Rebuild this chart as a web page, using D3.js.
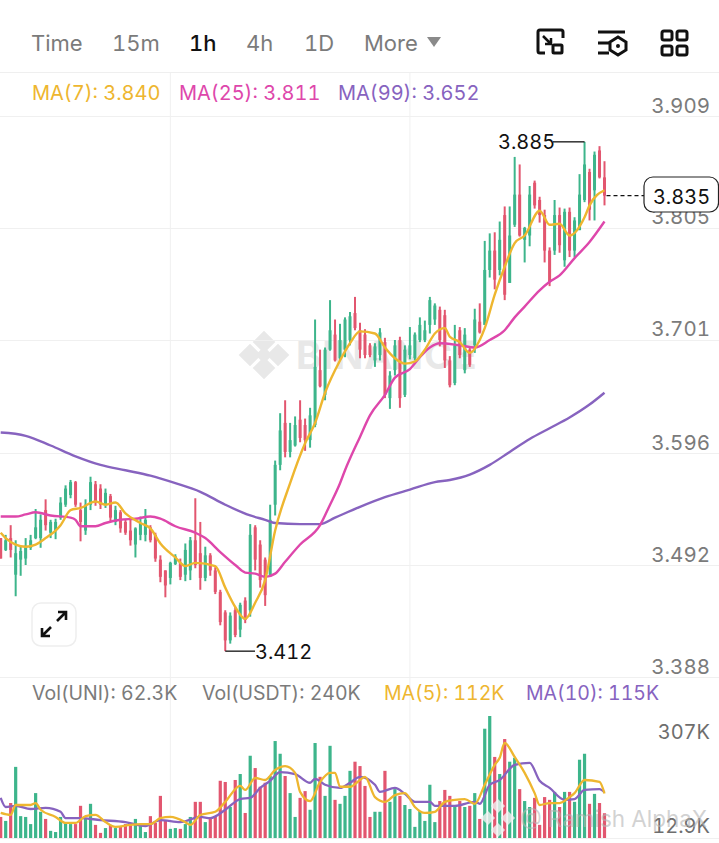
<!DOCTYPE html>
<html>
<head>
<meta charset="utf-8">
<script src="https://cdnjs.cloudflare.com/ajax/libs/d3/7.8.5/d3.min.js"></script>
<style>
html,body{margin:0;padding:0;background:#fff;}
svg{display:block;}
text{font-family:"Inter","Open Sans",sans-serif;font-variant-numeric:tabular-nums;}
</style>
</head>
<body>
<script>
var timeTabs = ["Time","15m","1h","4h","1D","More"];
var priceTicks = [3.909,3.805,3.701,3.596,3.492,3.388];
var volTicks = [307,12.9];
var gridCandles = [34,82];

var open = [3.517,3.506,3.517,3.483,3.497,3.498,3.508,3.517,3.517,3.543,
3.522,3.524,3.536,3.548,3.557,3.569,3.543,3.524,3.548,3.567,
3.563,3.548,3.556,3.532,3.541,3.532,3.524,3.511,3.520,3.520,
3.527,3.520,3.497,3.487,3.480,3.493,3.494,3.483,3.487,3.515,
3.503,3.480,3.501,3.487,3.467,3.448,3.422,3.450,3.432,3.459,
3.450,3.527,3.511,3.497,3.483,3.548,3.585,3.624,3.597,3.603,
3.627,3.622,3.608,3.622,3.673,3.650,3.692,3.706,3.684,3.692,
3.701,3.726,3.710,3.706,3.696,3.682,3.687,3.699,3.647,3.673,
3.701,3.650,3.687,3.684,3.701,3.701,3.715,3.720,3.729,3.724,
3.682,3.661,3.710,3.673,3.692,3.696,3.718,3.715,3.766,3.784,
3.766,3.817,3.754,3.808,3.836,3.794,3.798,3.847,3.831,3.817,
3.784,3.784,3.817,3.775,3.820,3.784,3.803,3.831,3.857,3.840,
3.877,3.852];
var high = [3.517,3.520,3.529,3.515,3.509,3.517,3.520,3.544,3.539,3.553,
3.534,3.535,3.555,3.566,3.571,3.570,3.550,3.553,3.574,3.570,
3.567,3.563,3.558,3.547,3.543,3.534,3.534,3.527,3.537,3.544,
3.529,3.522,3.501,3.487,3.495,3.502,3.498,3.512,3.518,3.554,
3.532,3.509,3.503,3.490,3.469,3.450,3.448,3.453,3.457,3.462,
3.530,3.529,3.515,3.499,3.548,3.589,3.633,3.645,3.624,3.630,
3.645,3.628,3.638,3.720,3.692,3.694,3.738,3.720,3.716,3.722,
3.727,3.741,3.717,3.711,3.698,3.698,3.712,3.703,3.672,3.701,
3.704,3.696,3.713,3.708,3.722,3.719,3.741,3.735,3.732,3.729,
3.686,3.715,3.713,3.712,3.695,3.730,3.735,3.793,3.800,3.801,
3.811,3.825,3.825,3.871,3.864,3.806,3.844,3.849,3.834,3.822,
3.787,3.831,3.824,3.823,3.824,3.815,3.855,3.885,3.860,3.876,
3.881,3.867];
var low = [3.498,3.505,3.499,3.463,3.482,3.492,3.506,3.516,3.508,3.524,
3.517,3.516,3.534,3.546,3.554,3.546,3.514,3.520,3.543,3.547,
3.544,3.545,3.532,3.529,3.522,3.520,3.510,3.499,3.515,3.514,
3.513,3.495,3.476,3.462,3.474,3.492,3.478,3.477,3.478,3.489,
3.469,3.477,3.482,3.465,3.436,3.412,3.419,3.425,3.425,3.438,
3.444,3.487,3.471,3.454,3.481,3.538,3.580,3.592,3.592,3.602,
3.606,3.598,3.601,3.620,3.657,3.645,3.691,3.681,3.682,3.685,
3.696,3.710,3.684,3.684,3.685,3.676,3.682,3.647,3.637,3.668,
3.638,3.648,3.683,3.682,3.699,3.699,3.707,3.715,3.695,3.675,
3.657,3.659,3.684,3.670,3.676,3.689,3.707,3.715,3.759,3.748,
3.761,3.738,3.754,3.806,3.797,3.773,3.788,3.823,3.810,3.773,
3.751,3.780,3.782,3.769,3.778,3.778,3.803,3.829,3.812,3.812,
3.851,3.826];
var close = [3.498,3.515,3.506,3.503,3.505,3.510,3.515,3.527,3.534,3.529,
3.532,3.532,3.550,3.563,3.569,3.548,3.532,3.548,3.569,3.550,
3.548,3.559,3.536,3.543,3.526,3.522,3.515,3.526,3.531,3.534,
3.515,3.498,3.481,3.473,3.494,3.500,3.481,3.506,3.515,3.492,
3.480,3.501,3.487,3.467,3.439,3.422,3.445,3.427,3.455,3.441,
3.520,3.497,3.478,3.464,3.534,3.585,3.617,3.597,3.608,3.622,
3.610,3.608,3.631,3.676,3.658,3.692,3.710,3.682,3.701,3.720,
3.723,3.712,3.692,3.687,3.687,3.695,3.708,3.650,3.668,3.696,
3.647,3.692,3.696,3.706,3.715,3.710,3.738,3.733,3.701,3.682,
3.659,3.696,3.687,3.706,3.678,3.720,3.708,3.766,3.784,3.757,
3.794,3.743,3.798,3.836,3.798,3.805,3.836,3.826,3.817,3.784,
3.755,3.817,3.789,3.820,3.784,3.812,3.836,3.864,3.822,3.873,
3.852,3.835];
var volume = [53,43,88,179,55,53,35,113,66,48,18,15,53,40,35,35,81,48,86,33,
12.9,25,33,25,28,35,35,48,30,15,55,38,106,43,23,25,23,35,53,91,
91,40,50,53,144,141,78,146,161,63,207,176,129,139,156,244,212,156,113,53,
101,118,71,239,154,106,232,96,86,106,169,192,181,131,53,66,66,169,91,123,
106,83,73,28,68,43,134,40,93,121,106,78,93,78,81,113,48,275,307,204,
161,249,192,202,123,93,78,101,33,103,96,116,78,116,116,91,197,212,86,111,
88,62.3];

// moving averages at these candle positions
var ma7Index = [0,1,3,5,7,9,11,12,14,16,19,21,23,25,28,30,32,35,37,39,43,45,47,49,51,53,55,58,61,63,65,68,70,72,75,77,79,81,83,85,87,89,90,92,94,96,97,99,101,103,105,108,110,112,114,117,118,121];
var ma7 = [3.522,3.517,3.511,3.509,3.511,3.517,3.524,3.529,3.543,3.545,3.551,3.548,3.550,3.540,3.531,3.526,3.512,3.499,3.491,3.494,3.491,3.471,3.453,3.442,3.457,3.478,3.524,3.568,3.605,3.624,3.652,3.682,3.698,3.709,3.707,3.694,3.684,3.679,3.681,3.692,3.707,3.712,3.704,3.699,3.689,3.701,3.712,3.743,3.769,3.791,3.798,3.821,3.808,3.809,3.798,3.815,3.826,3.840];
var ma25Index = [0,3,5,7,10,14,15,16,19,21,24,27,30,32,35,39,41,44,47,49,51,53,55,57,60,64,66,68,69,72,74,77,79,82,84,86,88,92,95,98,101,103,105,108,110,112,115,118,121];
var ma25 = [3.537,3.537,3.539,3.541,3.538,3.536,3.534,3.528,3.528,3.531,3.534,3.535,3.537,3.535,3.528,3.522,3.517,3.504,3.492,3.485,3.484,3.481,3.484,3.495,3.511,3.529,3.548,3.568,3.580,3.611,3.631,3.650,3.666,3.674,3.685,3.694,3.698,3.696,3.694,3.701,3.710,3.722,3.732,3.747,3.755,3.761,3.777,3.792,3.811];
var ma99Index = [0,5,10,15,20,25,30,35,40,45,50,53,55,60,64,67,72,77,82,87,90,94,98,102,106,110,114,118,121];
var ma99 = [3.615,3.612,3.603,3.593,3.585,3.580,3.575,3.568,3.560,3.548,3.538,3.534,3.531,3.530,3.530,3.536,3.546,3.555,3.562,3.569,3.571,3.576,3.585,3.597,3.609,3.619,3.629,3.641,3.652];
var volMa5Index = [0,2,3,6,7,8,11,13,15,17,19,21,23,26,28,30,32,34,37,38,40,43,45,48,49,51,53,55,57,59,60,62,64,66,67,68,70,72,73,75,77,79,81,83,85,87,89,91,93,95,97,99,100,101,103,105,107,108,110,112,114,115,117,120,121];
var volMa5 = [63,58,83,83,88,71,53,38,38,55,58,40,28,33,35,35,50,53,40,33,58,66,91,131,121,151,146,171,181,164,116,93,141,164,164,129,129,146,154,103,91,108,113,78,63,66,91,96,98,86,134,184,202,239,204,164,113,83,88,88,103,113,146,141,112];
var volMa10Index = [0,1,3,6,9,12,13,16,20,25,29,32,36,40,42,45,48,50,52,54,56,59,62,63,65,68,70,72,75,76,79,81,83,86,87,91,95,96,98,100,103,106,108,110,113,115,117,120,121];
var volMa10 = [101,78,81,73,76,66,50,50,45,40,30,45,40,53,50,71,98,101,126,144,166,161,139,149,134,126,139,154,134,116,126,111,91,91,81,81,91,86,134,146,184,189,144,126,96,98,121,123,115];

var w = 719, h = 843;
var green = "#3db58b", red = "#e2566f";
var yellow = "#eeb62f", pink = "#de47ab", purple = "#8763bf";

var svg = d3.select("body").append("svg").attr("width",w).attr("height",h);

var xScale = d3.scaleLinear().domain([0,121]).range([0.7,604.5]);
var yScale = d3.scaleLinear().domain([3.388,3.909]).range([677,116]);
var volScale = d3.scaleLinear().domain([0,307]).range([838,716]);

function candleColor(i){ return close[i] >= open[i] ? green : red; }

// top tabs
var tabX = [31,112,189,246,304,364];
svg.selectAll(".tab").data(timeTabs).enter().append("text")
	.attr("class","tab")
	.attr("x",function(d,i){return tabX[i];})
	.attr("y",51)
	.attr("font-size",22)
	.attr("fill",function(d){return d=="1h" ? "#111" : "#7b7b7b";})
	.attr("font-weight",function(d){return d=="1h" ? 500 : 400;})
	.text(function(d){return d;});
svg.append("path").attr("d","M427 37H441L434 47Z").attr("fill","#8a8a8a");

// icons
var icons = svg.append("g").attr("fill","none").attr("stroke","#111").attr("stroke-width",3);
icons.append("path").attr("d","M545 53H540Q538 53 538 51V32Q538 30 540 30H561Q563 30 563 32V38");
icons.append("rect").attr("x",553).attr("y",45).attr("width",9).attr("height",8).attr("rx",1);
icons.append("path").attr("d","M543 36L551 44M551 38V44H545").attr("stroke-width",2.5);
icons.append("path").attr("d","M598 32H625M598 43H609M598 53H609");
icons.append("path").attr("d","M618 37L626 42V50L618 55L610 50V42Z");
icons.append("circle").attr("cx",618).attr("cy",46).attr("r",2).attr("fill","#111").attr("stroke","none");
[[662,31],[677,31],[662,46],[677,46]].forEach(function(p){
	icons.append("rect").attr("x",p[0]).attr("y",p[1]).attr("width",10).attr("height",9).attr("rx",2);
});

svg.append("line").attr("x1",0).attr("x2",w).attr("y1",72.5).attr("y2",72.5).attr("stroke","#efefef");

// grid
var grid = svg.append("g").attr("stroke","#f0f0f0");
grid.selectAll("line").data(gridCandles).enter().append("line")
	.attr("x1",function(d){return xScale(d);})
	.attr("x2",function(d){return xScale(d);})
	.attr("y1",73).attr("y2",838);

// watermark behind the candles
var mark = svg.append("g").attr("fill","#e8e8e8");
[[264,342,8],[250,355,8],[278,355,8],[264,368,8],[264,355,6]].forEach(function(p){
	mark.append("rect").attr("x",-p[2]).attr("y",-p[2]).attr("width",p[2]*2).attr("height",p[2]*2)
		.attr("transform","translate("+p[0]+","+p[1]+") rotate(45)");
});
mark.append("text").attr("x",296).attr("y",369).attr("font-size",38).attr("font-weight",700)
	.attr("letter-spacing",1.2).text("BINANCE");

// price axis with grid lines, labels sit above their line
var priceAxis = d3.axisLeft(yScale).tickValues(priceTicks).tickSize(-w)
	.tickFormat(function(d){return d.toFixed(3);});
var axisG = svg.append("g").attr("transform","translate(710,0)").call(priceAxis);
axisG.select(".domain").remove();
axisG.selectAll(".tick line").attr("x1",-710).attr("x2",9).attr("stroke","#f0f0f0");
axisG.selectAll(".tick text").attr("x",0).attr("dy",-4).attr("font-size",20.5)
	.attr("fill","#7b7b7b").attr("text-anchor","end");

// candles
var idx = d3.range(open.length);
var candles = svg.append("g");
candles.selectAll(".wick").data(idx).enter().append("line")
	.attr("x1",function(i){return xScale(i);})
	.attr("x2",function(i){return xScale(i);})
	.attr("y1",function(i){return yScale(high[i]);})
	.attr("y2",function(i){return yScale(low[i]);})
	.attr("stroke",candleColor).attr("stroke-width",2);
candles.selectAll(".body").data(idx).enter().append("rect")
	.attr("x",function(i){return xScale(i)-1.5;})
	.attr("y",function(i){return yScale(Math.max(open[i],close[i]));})
	.attr("width",3)
	.attr("height",function(i){return Math.max(1,Math.abs(yScale(open[i])-yScale(close[i])));})
	.attr("fill",candleColor);

// MA lines
function drawLine(index,values,scale,color,width){
	var line = d3.line()
		.x(function(d,i){return xScale(index[i]);})
		.y(function(d){return scale(d);})
		.curve(d3.curveMonotoneX);
	svg.append("path").attr("d",line(values)).attr("fill","none")
		.attr("stroke",color).attr("stroke-width",width);
}
drawLine(ma99Index,ma99,yScale,purple,2.4);
drawLine(ma25Index,ma25,yScale,pink,2.4);
drawLine(ma7Index,ma7,yScale,yellow,2.4);

// MA legend
var maLegend = [["MA(7): 3.840",32,yellow],["MA(25): 3.811",179,pink],["MA(99): 3.652",338,purple]];
svg.selectAll(".ma").data(maLegend).enter().append("text")
	.attr("x",function(d){return d[1];}).attr("y",100)
	.attr("font-size",20).attr("fill",function(d){return d[2];})
	.text(function(d){return d[0];});

// high and low callouts
svg.append("line").attr("x1",xScale(117)).attr("x2",553)
	.attr("y1",yScale(3.885)).attr("y2",yScale(3.885)).attr("stroke","#111").attr("stroke-width",1.3);
svg.append("text").attr("x",498).attr("y",yScale(3.885)+7).attr("font-size",20).attr("fill","#111").text("3.885");
svg.append("line").attr("x1",xScale(45)).attr("x2",255)
	.attr("y1",yScale(3.412)).attr("y2",yScale(3.412)).attr("stroke","#111").attr("stroke-width",1.3);
svg.append("text").attr("x",255).attr("y",yScale(3.412)+8).attr("font-size",20).attr("fill","#111").text("3.412");

// last price tag
svg.append("line").attr("x1",xScale(121)+2).attr("x2",644)
	.attr("y1",yScale(3.835)).attr("y2",yScale(3.835))
	.attr("stroke","#111").attr("stroke-width",1.2).attr("stroke-dasharray","4,3");
svg.append("rect").attr("x",644).attr("y",177).attr("width",74.5).attr("height",35).attr("rx",9)
	.attr("fill","#fff").attr("stroke","#222").attr("stroke-width",1.2);
svg.append("text").attr("x",681.5).attr("y",204).attr("text-anchor","middle")
	.attr("font-size",20).attr("fill","#111").text("3.835");

// expand button
svg.append("rect").attr("x",32).attr("y",603).attr("width",44).attr("height",43).attr("rx",9)
	.attr("fill","#fff").attr("stroke","#eeeeee").attr("stroke-width",1.5);
svg.append("path").attr("d","M42 636L51 627M42 628V636H50M57 621L66 612M58 612H66V620")
	.attr("fill","none").attr("stroke","#111").attr("stroke-width",2.6);

// volume
var volLegend = [["Vol(UNI): 62.3K",32,"#7b7b7b"],["Vol(USDT): 240K",202,"#7b7b7b"],["MA(5): 112K",384,yellow],["MA(10): 115K",526,purple]];
svg.selectAll(".vl").data(volLegend).enter().append("text")
	.attr("x",function(d){return d[1];}).attr("y",700)
	.attr("font-size",19.5).attr("fill",function(d){return d[2];})
	.text(function(d){return d[0];});

svg.append("g").selectAll("rect").data(idx).enter().append("rect")
	.attr("x",function(i){return xScale(i)-1.6;})
	.attr("y",function(i){return volScale(volume[i]);})
	.attr("width",3.2)
	.attr("height",function(i){return volScale(0)-volScale(volume[i]);})
	.attr("fill",candleColor);

drawLine(volMa10Index,volMa10,volScale,purple,2.3);
drawLine(volMa5Index,volMa5,volScale,yellow,2.3);

svg.append("line").attr("x1",0).attr("x2",w).attr("y1",838.5).attr("y2",838.5).attr("stroke","#f0f0f0");

var volAxis = d3.axisLeft(volScale).tickValues(volTicks).tickSize(0)
	.tickFormat(function(d){return d+"K";});
var volG = svg.append("g").attr("transform","translate(710,0)").call(volAxis);
volG.select(".domain").remove();
volG.selectAll(".tick text").attr("x",0).attr("text-anchor","end")
	.attr("font-size",20).attr("fill","#6e6e6e")
	.attr("dy",function(d){return d==307 ? 22 : 0;});

// bottom watermark, sits over the bars
var wm = svg.append("g").attr("opacity",0.8);
wm.selectAll("rect").data([[498,806,5],[488,818,5],[508,818,5],[498,830,5]]).enter().append("rect")
	.attr("x",-5).attr("y",-5).attr("width",10).attr("height",10).attr("fill","#f2f2f2")
	.attr("transform",function(d){return "translate("+d[0]+","+d[1]+") rotate(45)";});
wm.append("text").attr("x",520).attr("y",827).attr("font-size",22.5)
	.attr("fill","#b5b5b5").attr("fill-opacity",0.75).text("@ Ramish AlphaX");
</script>
</body>
</html>
